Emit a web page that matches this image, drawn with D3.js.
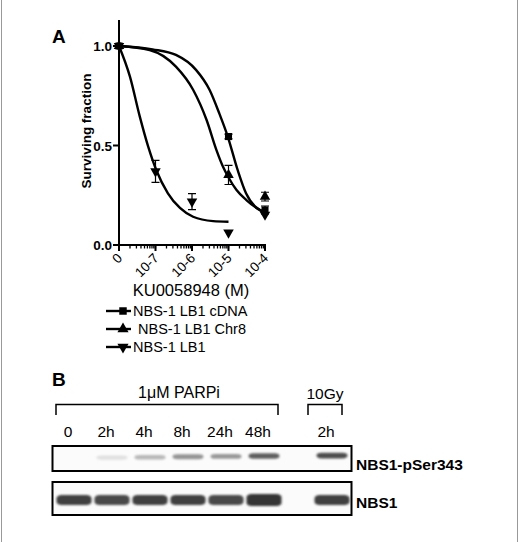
<!DOCTYPE html>
<html>
<head>
<meta charset="utf-8">
<script src="https://cdn.jsdelivr.net/npm/d3@7"></script>
<style>
  body { margin: 0; background: #fff; }
  svg { font-family: "Liberation Sans", Arial, sans-serif; }
</style>
</head>
<body>
<script>
// ---- data ----
// panel A: doses (M), 0 is drawn at the left end of the log axis
var doses = [0, 1e-7, 1e-6, 1e-5, 1e-4]
var seriesNames = ["NBS-1 LB1 cDNA", "NBS-1 LB1 Chr8", "NBS-1 LB1"]
var cdnaMean = [1.0, null, null, 0.545, 0.176]
var cdnaErr  = [0, null, null, 0.012, 0.02]
var chr8Mean = [1.0, null, null, 0.352, 0.243]
var chr8Err  = [0, null, null, 0.048, 0.022]
var lb1Mean  = [1.0, 0.37, 0.218, 0.062, 0.152]
var lb1Err   = [0, 0.055, 0.04, 0, 0]

// fitted curves (log10 dose, fraction)
var cdnaFitLog = [-8, -7.08, -6.44, -5.89, -5.52, -5.25, -5.02, -4.75, -4.52, -4.25, -4.0]
var cdnaFitVal = [1.0, 0.983, 0.955, 0.88, 0.78, 0.66, 0.545, 0.377, 0.26, 0.19, 0.167]
var chr8FitLog = [-8, -7.16, -6.44, -5.97, -5.6, -5.33, -5.15, -5.01, -4.78, -4.51, -4.15, -4.0]
var chr8FitVal = [1.0, 0.98, 0.896, 0.78, 0.628, 0.477, 0.393, 0.343, 0.276, 0.226, 0.176, 0.16]
var lb1FitLog  = [-8, -7.7, -7.43, -7.2, -6.98, -6.66, -6.33, -5.97, -5.42, -5.0]
var lb1FitVal  = [1.0, 0.846, 0.645, 0.494, 0.377, 0.26, 0.186, 0.142, 0.12, 0.117]

var xTickLabels = ["0", "10-7", "10-6", "10-5", "10-4"]
var yTicks = [0, 0.5, 1.0]

// panel B: western blot lanes and band strengths (0..1)
var parpLanes = ["0", "2h", "4h", "8h", "24h", "48h"]
var irLanes = ["2h"]
var pSerBands = [0, 0.14, 0.32, 0.48, 0.46, 0.72, 0.8]
var nbsBands  = [0.85, 0.82, 0.86, 0.86, 0.82, 0.9, 0.86]
var blotNames = ["NBS1-pSer343", "NBS1"]

var width = 520
var height = 542

var svg = d3.select("body")
  .append("svg")
    .attr("width", width)
    .attr("height", height)

// thin frame at the sides of the figure
svg.append("line").attr("x1", 1.5).attr("x2", 1.5).attr("y1", 0).attr("y2", height)
  .attr("stroke", "#999").attr("stroke-width", 1)
svg.append("line").attr("x1", 517.5).attr("x2", 517.5).attr("y1", 0).attr("y2", height)
  .attr("stroke", "#999").attr("stroke-width", 1)

// ---------------- panel A ----------------
svg.append("text").attr("x", 52).attr("y", 43)
  .attr("font-size", 19).attr("font-weight", "bold").text("A")

var x = d3.scaleLog().domain([1e-8, 1e-4]).range([119, 265])
var y = d3.scaleLinear().domain([0, 1]).range([245, 46])
function xd(d) { return x(d === 0 ? 1e-8 : d) }

// y axis
svg.append("line").attr("x1", 119).attr("x2", 119).attr("y1", 20).attr("y2", y(0))
  .attr("stroke", "#000").attr("stroke-width", 2)
svg.selectAll(".ytick").data(yTicks).enter().append("line")
  .attr("x1", 113).attr("x2", 119)
  .attr("y1", function(d){ return y(d) }).attr("y2", function(d){ return y(d) })
  .attr("stroke", "#000").attr("stroke-width", 2)
svg.selectAll(".ylab").data(yTicks).enter().append("text")
  .attr("x", 112).attr("y", function(d){ return y(d) + 5 })
  .attr("text-anchor", "end").attr("font-size", 13.5).attr("font-weight", "bold")
  .text(function(d){ return d3.format(".1f")(d) })
svg.append("text")
  .attr("transform", "translate(91," + 131 + ") rotate(-90)")
  .attr("text-anchor", "middle").attr("font-size", 13.5).attr("font-weight", "bold")
  .text("Surviving fraction")

// x axis with minor log ticks
var majors = [1e-8, 1e-7, 1e-6, 1e-5, 1e-4]
svg.append("line").attr("x1", 118).attr("x2", 266).attr("y1", y(0)).attr("y2", y(0))
  .attr("stroke", "#000").attr("stroke-width", 2)
svg.selectAll(".xminor").data(x.ticks()).enter().append("line")
  .attr("x1", function(d){ return x(d) }).attr("x2", function(d){ return x(d) })
  .attr("y1", y(0)).attr("y2", y(0) + 3.5)
  .attr("stroke", "#000").attr("stroke-width", 1.3)
svg.selectAll(".xmajor").data(majors).enter().append("line")
  .attr("x1", function(d){ return x(d) }).attr("x2", function(d){ return x(d) })
  .attr("y1", y(0)).attr("y2", y(0) + 6)
  .attr("stroke", "#000").attr("stroke-width", 2)
svg.selectAll(".xlab").data(doses).enter().append("text")
  .attr("transform", function(d){ return "translate(" + (xd(d) + 4) + "," + (y(0) + 14) + ") rotate(-45)" })
  .attr("text-anchor", "end").attr("font-size", 13.5)
  .text(function(d, i){ return xTickLabels[i] })
svg.append("text").attr("x", 191).attr("y", 296)
  .attr("text-anchor", "middle").attr("font-size", 16.5)
  .text("KU0058948 (M)")

// fitted curves
var line = d3.line()
  .x(function(d){ return x(Math.pow(10, d[0])) })
  .y(function(d){ return y(d[1]) })
  .curve(d3.curveMonotoneX)
var fits = [
  d3.zip(cdnaFitLog, cdnaFitVal),
  d3.zip(chr8FitLog, chr8FitVal),
  d3.zip(lb1FitLog, lb1FitVal)
]
svg.append("g").selectAll("path").data(fits).enter().append("path")
  .attr("d", line).attr("fill", "none")
  .attr("stroke", "#000").attr("stroke-width", 2.4)

// markers
var symbols = [d3.symbolSquare, d3.symbolTriangle, d3.symbolTriangle]
var rotations = [0, 0, 180]
var sizes = [50, 48, 48]
var series = [
  { mean: cdnaMean, err: cdnaErr },
  { mean: chr8Mean, err: chr8Err },
  { mean: lb1Mean, err: lb1Err }
]
series.forEach(function(s, k) {
  var pts = doses.map(function(d, i){ return { d: d, v: s.mean[i], e: s.err[i] } })
    .filter(function(p){ return p.v !== null })
  var g = svg.append("g")
  var eb = pts.filter(function(p){ return p.e > 0 })
  g.selectAll(".eb").data(eb).enter().append("path")
    .attr("d", function(p){
      var cx = xd(p.d), t = y(p.v + p.e), b = y(p.v - p.e)
      return "M" + (cx - 4) + "," + t + "H" + (cx + 4) + "M" + cx + "," + t + "V" + b +
        "M" + (cx - 4) + "," + b + "H" + (cx + 4)
    })
    .attr("stroke", "#000").attr("stroke-width", 1.2).attr("fill", "none")
  g.selectAll(".pt").data(pts).enter().append("path")
    .attr("d", d3.symbol().type(symbols[k]).size(sizes[k]))
    .attr("transform", function(p){ return "translate(" + xd(p.d) + "," + y(p.v) + ") rotate(" + rotations[k] + ")" })
    .attr("fill", "#000")
})

// legend
var legendY = [311, 329, 347]
var legendTx = [133, 138, 133]
seriesNames.forEach(function(name, k) {
  svg.append("line").attr("x1", 106).attr("x2", 131)
    .attr("y1", legendY[k]).attr("y2", legendY[k])
    .attr("stroke", "#000").attr("stroke-width", 2.4)
  svg.append("path")
    .attr("d", d3.symbol().type(symbols[k]).size(sizes[k] + 6))
    .attr("transform", "translate(123," + legendY[k] + ") rotate(" + rotations[k] + ")")
    .attr("fill", "#000")
  svg.append("text").attr("x", legendTx[k]).attr("y", legendY[k] + 5)
    .attr("font-size", 14.5).text(name)
})

// ---------------- panel B ----------------
svg.append("text").attr("x", 52).attr("y", 386)
  .attr("font-size", 19).attr("font-weight", "bold").text("B")

var lane = d3.scalePoint().domain(parpLanes).range([74, 264])
var irLane = d3.scalePoint().domain(irLanes).range([332, 332])
var laneCenters = parpLanes.map(function(l){ return lane(l) }).concat(irLanes.map(function(l){ return irLane(l) }))
var laneNames = parpLanes.concat(irLanes)

// brackets and headings
svg.append("path").attr("d", "M56,415V404.5H278V415")
  .attr("fill", "none").attr("stroke", "#000").attr("stroke-width", 1.5)
svg.append("path").attr("d", "M308,415V404.5H342V415")
  .attr("fill", "none").attr("stroke", "#000").attr("stroke-width", 1.5)
svg.append("text").attr("x", 179).attr("y", 398).attr("text-anchor", "middle")
  .attr("font-size", 16).text("1\u03bcM PARPi")
svg.append("text").attr("x", 325).attr("y", 399).attr("text-anchor", "middle")
  .attr("font-size", 15.5).text("10Gy")
svg.selectAll(".lanelab").data(laneNames).enter().append("text")
  .attr("x", function(d, i){ return laneCenters[i] - 6 }).attr("y", 437)
  .attr("text-anchor", "middle").attr("font-size", 15.5)
  .text(function(d){ return d })

// blot boxes
var defs = svg.append("defs")
defs.append("filter").attr("id", "blur").attr("x", "-20%").attr("y", "-100%")
  .attr("width", "140%").attr("height", "300%")
  .append("feGaussianBlur").attr("stdDeviation", 1.1)

var blotRows = [
  { top: 446, h: 25, cy: 458, bands: pSerBands, bw: 31, bh: 4 },
  { top: 482, h: 33, cy: 500, bands: nbsBands, bw: 35, bh: 10 }
]
var gray = d3.scaleLinear().domain([0, 1]).range(["#ffffff", "#202020"])
blotRows.forEach(function(r, k) {
  svg.append("rect").attr("x", 52.5).attr("y", r.top).attr("width", 299).attr("height", r.h)
    .attr("fill", "#fbfbfb").attr("stroke", "#000").attr("stroke-width", 2)
  svg.append("g").attr("filter", "url(#blur)")
    .selectAll("rect").data(r.bands).enter().append("rect")
      .attr("x", function(d, i){ return laneCenters[i] - r.bw / 2 })
      .attr("y", function(d, i){ return r.cy - (r.bh + (k === 0 ? d * 2 : (i === 5 ? 2 : 0))) / 2 - (k === 0 ? i * 0.4 : 0) })
      .attr("width", r.bw)
      .attr("height", function(d, i){ return r.bh + (k === 0 ? d * 2 : (i === 5 ? 2 : 0)) })
      .attr("rx", 5).attr("ry", 3)
      .attr("fill", function(d){ return gray(d) })
      .attr("opacity", function(d){ return d === 0 ? 0 : 1 })
  svg.append("text").attr("x", 356).attr("y", k === 0 ? 470 : 508)
    .attr("font-size", 15.5).attr("font-weight", "bold").text(blotNames[k])
})
</script>
</body>
</html>
